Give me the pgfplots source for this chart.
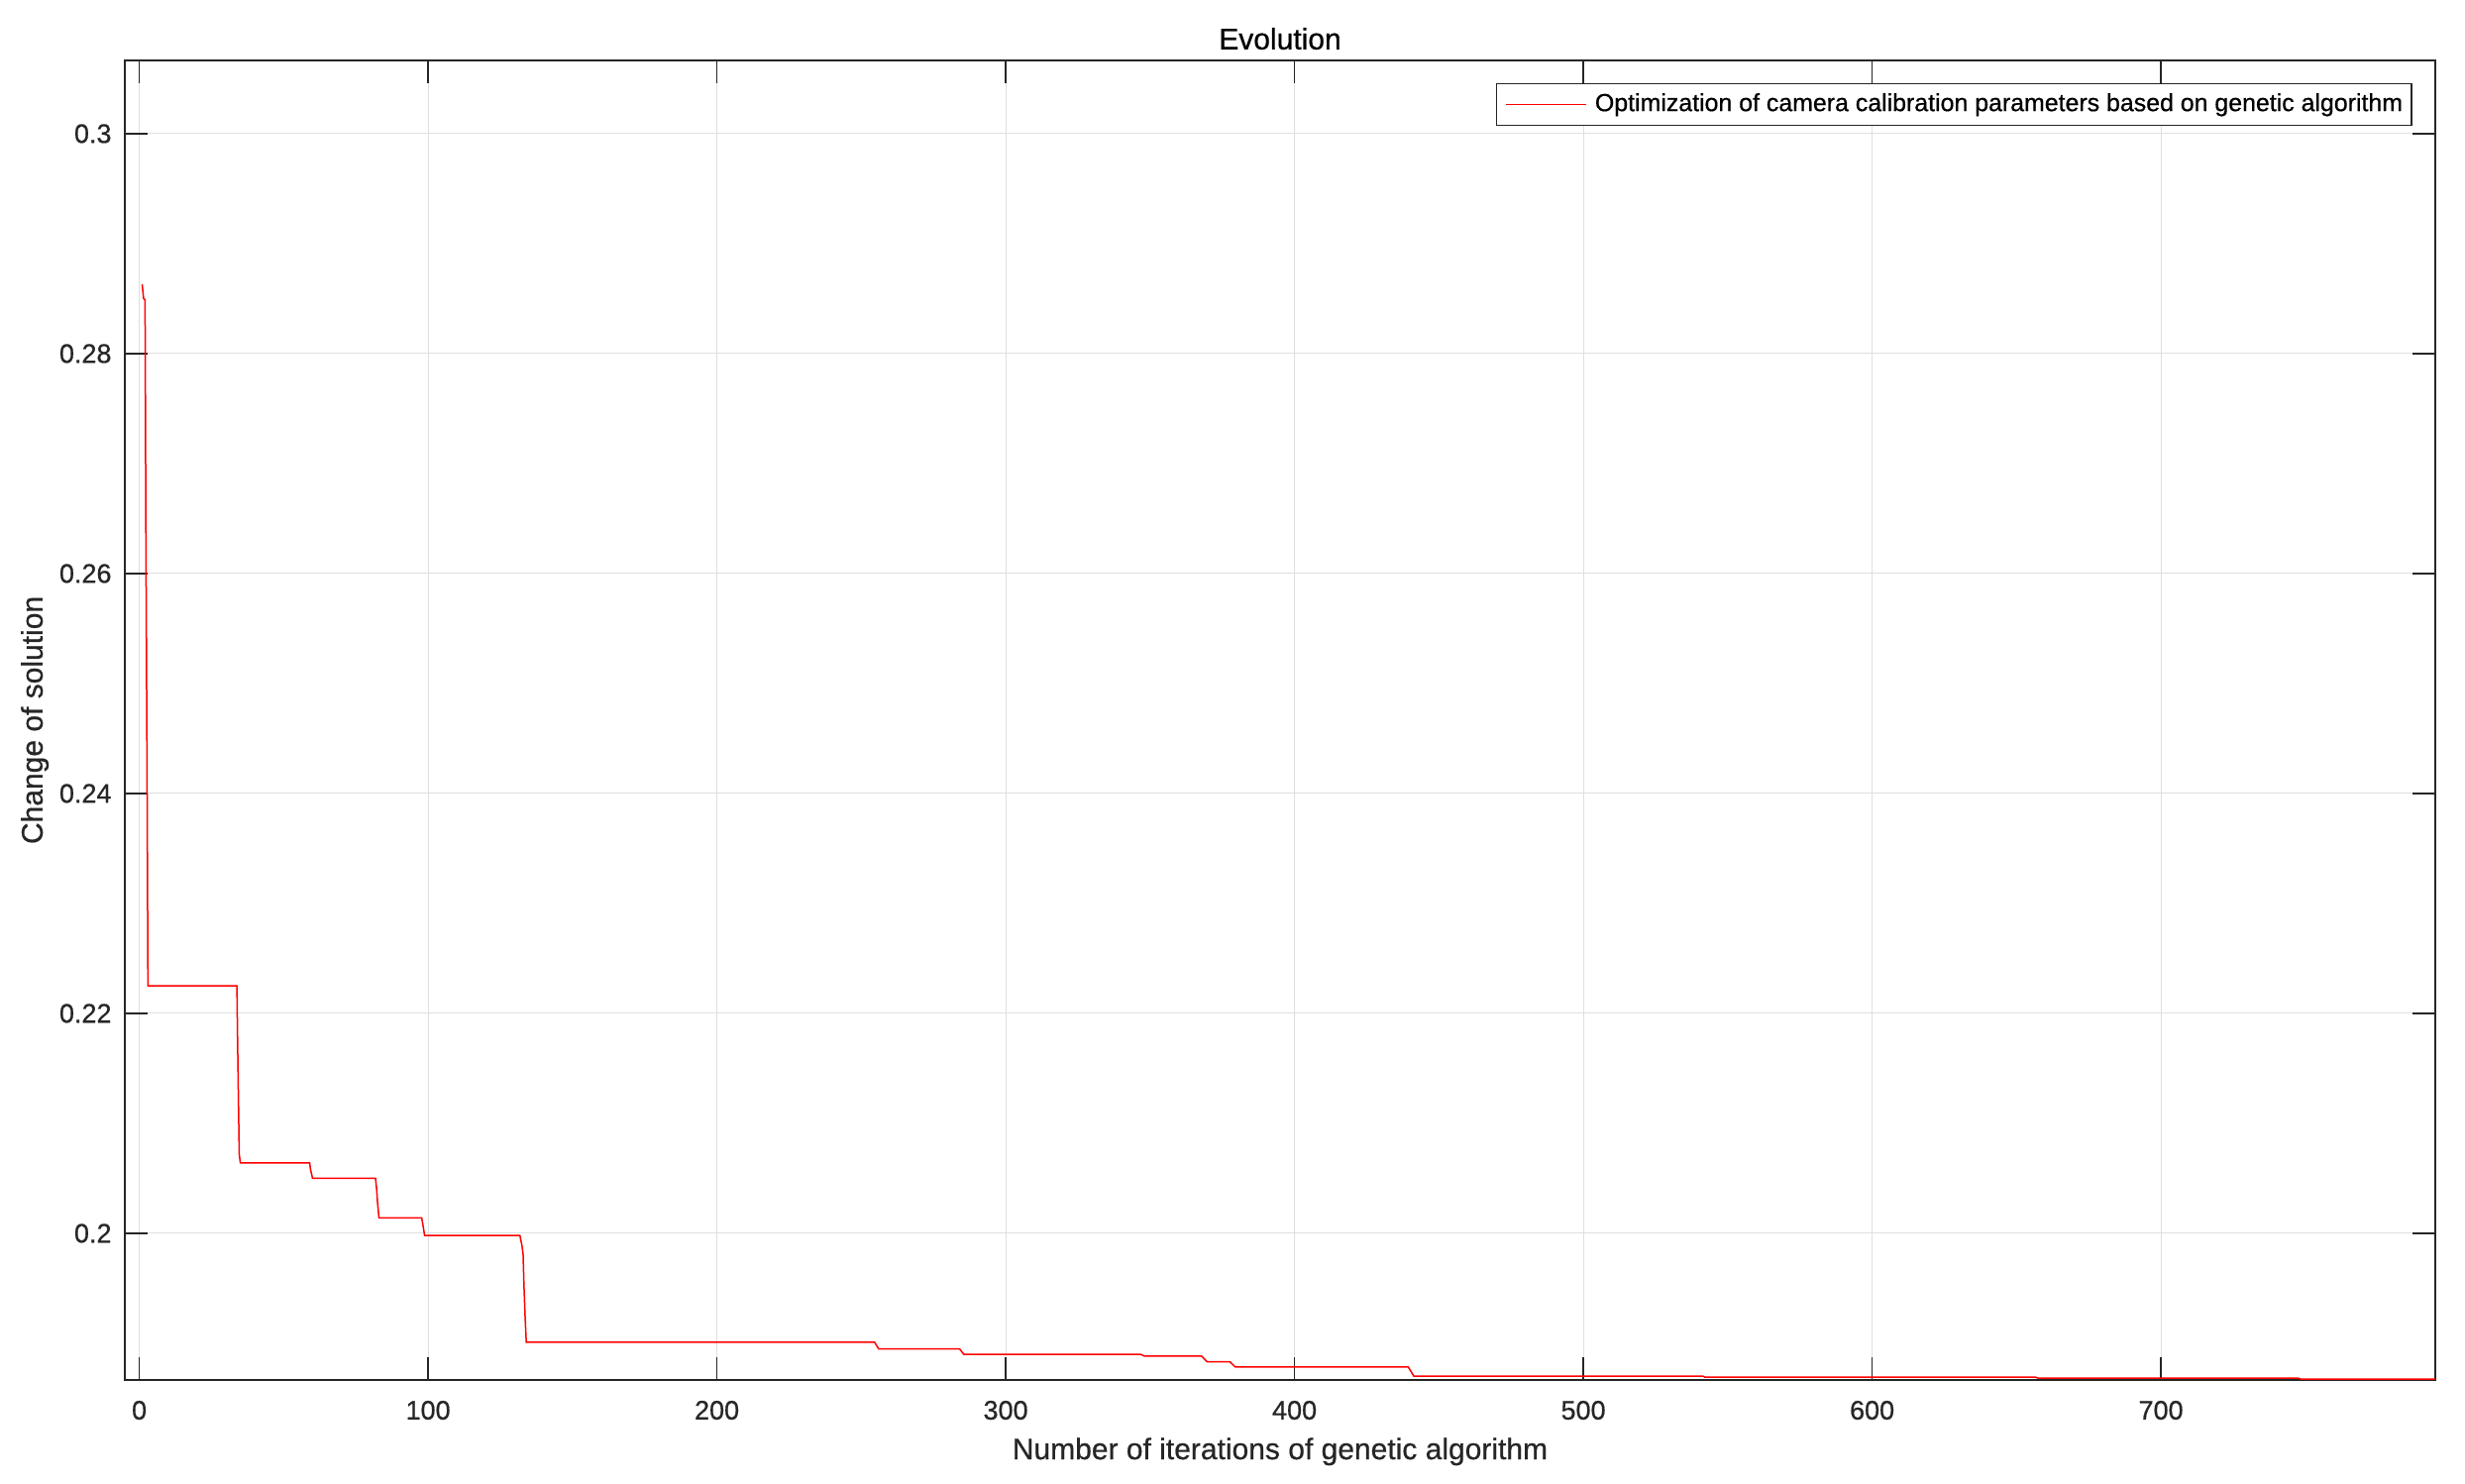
\documentclass[border=0pt]{standalone}
\usepackage{fontspec}
\setmainfont{Liberation Sans}[FakeBold=0.6]
\usepackage{pgfplots}
\pgfplotsset{compat=1.18}
\definecolor{axgray}{HTML}{262626}
\definecolor{gridgray}{HTML}{DFDFDF}
\begin{document}
\begin{tikzpicture}
\useasboundingbox (-42pt,-35pt) rectangle (787.3pt,464.3pt);
\begin{axis}[
  at={(0pt,0pt)}, anchor=south west,
  scale only axis, width=777.3pt, height=444pt,
  xmin=-5, xmax=795, ymin=0.18667, ymax=0.30667,
  xtick={0,100,...,700}, ytick={0.2,0.22,0.24,0.26,0.28,0.3},
  tick align=inside, major tick length=7.8pt,
  every tick/.style={axgray, line width=0.6pt},
  axis line style={axgray, line width=0.9pt},
  grid=major, grid style={gridgray, line width=0.35pt},
  /pgf/number format/assume math mode=true,
  tick label style={font=\fontsize{9}{10}\selectfont, text=axgray},
  yticklabel style={/pgf/number format/fixed, /pgf/number format/precision=2, inner sep=0pt, xshift=-4.3pt},
  xticklabel style={anchor=base, yshift=-13.3pt},
  every axis title shift=0pt,
  title={Evolution},
  title style={at={(axis description cs:0.5,1.00833)}, anchor=base, font=\fontsize{10}{12}\selectfont},
  xlabel={Number of iterations of genetic algorithm},
  xlabel style={at={(axis description cs:0.5,-0.0601)}, anchor=base, font=\fontsize{10}{12}\selectfont, text=axgray},
  ylabel={Change of solution},
  ylabel style={at={(axis description cs:-0.03564,0.5)}, anchor=base, font=\fontsize{10}{12}\selectfont, text=axgray},
  legend style={at={(axis description cs:0.99009,0.98266)}, anchor=north east,
    draw=axgray, line width=0.5pt, inner xsep=3pt, inner ysep=3.15pt,
    font=\fontsize{8.3}{9}\selectfont,
    nodes={inner sep=0pt, text height=6pt, text depth=1.7pt},
    /tikz/column sep=2.7pt},
  legend cell align=left,
  legend image code/.code={\draw[#1] (0pt,0pt) -- (27pt,0pt);},
]
\addplot[red, line width=0.5pt] coordinates {
(1,0.2863) (1.5,0.2850) (2,0.2849) (2.3,0.2629) (2.7,0.2411) (3,0.2225)
(33.8,0.2225) (34,0.2183) (34.3,0.2127) (34.6,0.2072) (35,0.2064)
(59,0.2064) (59.3,0.2058) (60,0.2050)
(81.8,0.2050) (82.2,0.2040) (82.5,0.2028) (83,0.2014)
(97.8,0.2014) (98.2,0.2008) (98.8,0.1998)
(131.8,0.1998) (132.5,0.1989) (132.9,0.1981) (133.2,0.1953) (133.6,0.1924) (134,0.1901)
(254.6,0.1901) (256,0.1895)
(284,0.1895) (285.5,0.1890)
(346.7,0.1890) (348,0.18884)
(367.8,0.18884) (369.7,0.18833)
(377.6,0.18833) (379.5,0.18784)
(439.4,0.18784) (441.3,0.18702)
(541.4,0.18702) (542,0.18693)
(656.5,0.18693) (657.5,0.18683)
(747.6,0.18683) (748.5,0.18674)
(795,0.18674)
};
\addlegendentry{Optimization of camera calibration parameters based on genetic algorithm}
\end{axis}
\end{tikzpicture}
\end{document}
